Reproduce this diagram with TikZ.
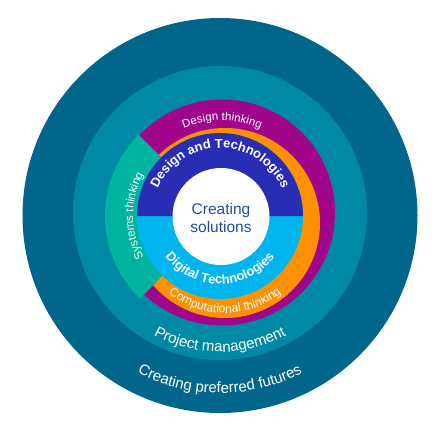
\documentclass[tikz,border=0pt]{standalone}
\usepackage{fontspec}
\setmainfont{Liberation Sans}
\usetikzlibrary{decorations.text}
\definecolor{futures}{RGB}{0,102,140}
\definecolor{project}{RGB}{0,137,165}
\definecolor{designthink}{RGB}{160,5,140}
\definecolor{computethink}{RGB}{255,145,0}
\definecolor{systemsthink}{RGB}{0,180,160}
\definecolor{dandt}{RGB}{40,45,180}
\definecolor{digitech}{RGB}{0,180,240}
\definecolor{solution}{RGB}{30,78,160}
\tikzset{
  ringtext/.style={decorate, decoration={text along path, text align=center, text color=white, text={#1}}}
}
\begin{document}
\begin{tikzpicture}[x=1pt, y=1pt]
  \useasboundingbox (-220,-211) rectangle (221,215);
  \fill[futures] (0,-0.5) circle[radius=197.5];
  \fill[project] (0,2) circle[radius=147];
  \fill[designthink] (2,2.5) circle[radius=113];
  \fill[computethink] (5,-8) circle[radius=95];
  \fill[systemsthink] (0,-1) -- ([shift={(135:115)}]0,-1) arc[start angle=135, end angle=226, radius=115] -- cycle;
  \fill[digitech] (0,-1) circle[radius=83];
  \fill[dandt] (-83,-1) arc[start angle=180, end angle=0, radius=83] -- cycle;
  \fill[white] (1,-1.5) circle[radius=48.5];
  \node[text=solution, font=\fontsize{15.5}{17.5}\selectfont, align=center] (core) at (1,-3) {Creating\\solutions};
  \path[ringtext={|\fontsize{11.5}{12}\selectfont|Design thinking}]
    ([shift={(130:92)}]2,2.5) arc[start angle=130, end angle=50, radius=92];
  \path[ringtext={|\fontsize{13}{13}\selectfont\bfseries|Design and Technologies}]
    ([shift={(175:68)}]0,-1) arc[start angle=175, end angle=5, radius=68];
  \path[ringtext={|\fontsize{13}{13}\selectfont\bfseries|Digital Technologies}]
    ([shift={(190:68)}]0,-1) arc[start angle=190, end angle=350, radius=68];
  \path[ringtext={|\fontsize{11.5}{12}\selectfont|Systems thinking}]
    ([shift={(230:87)}]0,-1) arc[start angle=230, end angle=130, radius=87];
  \path[ringtext={|\fontsize{12}{12}\selectfont|Computational thinking}]
    ([shift={(215:90)}]5,-8) arc[start angle=215, end angle=325, radius=90];
  \path[ringtext={|\fontsize{15}{15}\selectfont|Project management}]
    ([shift={(230:139)}]0,2) arc[start angle=230, end angle=310, radius=139];
  \path[ringtext={|\fontsize{15}{15}\selectfont|Creating preferred futures}]
    ([shift={(235:178)}]0,0) arc[start angle=235, end angle=305, radius=178];
\end{tikzpicture}
\end{document}
